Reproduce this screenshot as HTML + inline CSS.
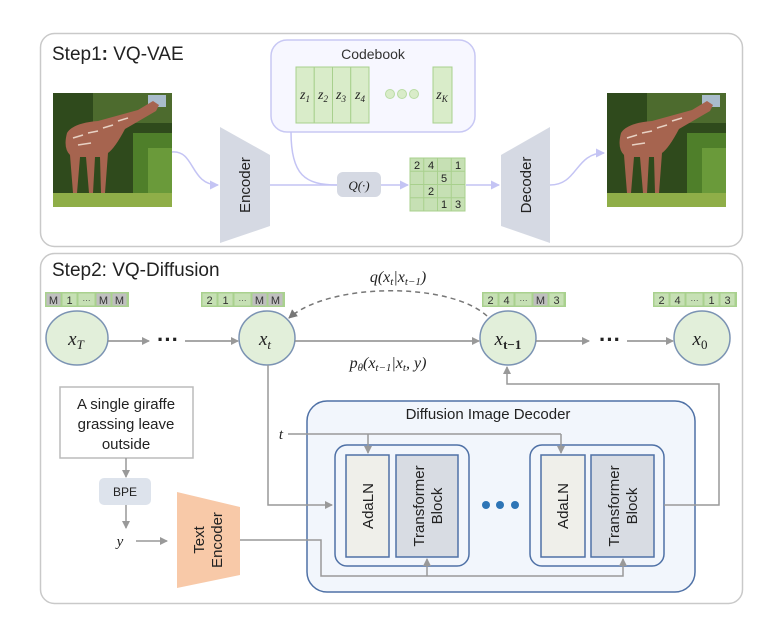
<!DOCTYPE html>
<html><head><meta charset="utf-8"><style>
html,body{margin:0;padding:0;background:#fff;}
svg{display:block;font-family:"Liberation Sans",sans-serif;}
.m{font-family:"Liberation Serif",serif;font-style:italic;}
</style></head><body>
<svg width="769" height="617" viewBox="0 0 769 617" xmlns="http://www.w3.org/2000/svg">
<defs>
<marker id="ag" markerWidth="8" markerHeight="8" refX="7" refY="4" orient="auto" markerUnits="userSpaceOnUse"><path d="M0,0 L8,4 L0,8 z" fill="#999"/></marker>
<marker id="ap" markerWidth="9" markerHeight="9" refX="8" refY="4.5" orient="auto" markerUnits="userSpaceOnUse"><path d="M0,0 L9,4.5 L0,9 z" fill="#c4c4f4"/></marker>
<marker id="ad" markerWidth="9" markerHeight="9" refX="8" refY="4.5" orient="auto" markerUnits="userSpaceOnUse"><path d="M0,0 L9,4.5 L0,9 z" fill="#777"/></marker>
<g id="gir">
<rect x="0" y="0" width="119" height="114" fill="#2f4a1c"/>
<rect x="40" y="0" width="79" height="30" fill="#4d6b2e"/>
<rect x="95" y="2" width="18" height="12" fill="#a9bccb"/>
<rect x="80" y="40" width="39" height="60" fill="#4f7f2a"/>
<rect x="95" y="55" width="24" height="45" fill="#6a9a3a"/>
<rect x="0" y="100" width="119" height="14" fill="#8fae48"/>
<path d="M14,40 Q20,30 45,28 L85,17 L100,8 L106,12 L103,18 L72,36 Q62,55 55,60 L52,100 L48,100 L47,64 L42,64 L40,100 L36,100 L33,64 L27,64 L24,100 L20,100 L17,62 Q10,55 14,40z" fill="#a6644f"/>
<path d="M20,45 L30,42 M35,40 L45,38 M25,52 L38,50 M50,35 L60,32 M65,28 L75,25" stroke="#e8d2c4" stroke-width="1.5"/>
</g>
</defs>

<!-- Step1 -->
<rect x="40.5" y="33.5" width="702" height="213" rx="14" fill="#fff" stroke="#c9c9c9" stroke-width="1.5"/>
<text x="52" y="60" font-size="19" fill="#222">Step1<tspan font-weight="bold">:</tspan> VQ-VAE</text>

<rect x="271" y="40" width="204" height="92" rx="16" fill="#f7f7ff" stroke="#c8c8f4" stroke-width="1.5"/>
<text x="373" y="59" font-size="14" text-anchor="middle" fill="#333">Codebook</text>
<g fill="#d9ecc9" stroke="#a8d08d">
<rect x="296" y="67" width="18.25" height="56"/><rect x="314.25" y="67" width="18.25" height="56"/><rect x="332.5" y="67" width="18.25" height="56"/><rect x="350.75" y="67" width="18.25" height="56"/><rect x="433" y="67" width="19" height="56"/>
</g>
<g class="m" font-size="14" fill="#222" text-anchor="middle">
<text x="305" y="99">z<tspan font-size="9" dy="3">1</tspan></text>
<text x="323" y="99">z<tspan font-size="9" dy="3">2</tspan></text>
<text x="341" y="99">z<tspan font-size="9" dy="3">3</tspan></text>
<text x="360" y="99">z<tspan font-size="9" dy="3">4</tspan></text>
<text x="442" y="99">z<tspan font-size="9" dy="3">K</tspan></text>
</g>
<g fill="#d9ecc9" stroke="#b9dca4"><circle cx="390" cy="94" r="4.5"/><circle cx="402" cy="94" r="4.5"/><circle cx="414" cy="94" r="4.5"/></g>

<use href="#gir" x="53" y="93"/>
<use href="#gir" x="607" y="93"/>

<path d="M172,152 C195,150 190,185 218,185" fill="none" stroke="#c4c4f4" stroke-width="1.5" marker-end="url(#ap)"/>
<polygon points="220,127 270,155 270,226 220,243" fill="#d5d9e3"/>
<text transform="translate(250,185) rotate(-90)" font-size="15" text-anchor="middle" fill="#222">Encoder</text>
<line x1="270" y1="185" x2="337" y2="185" stroke="#c4c4f4" stroke-width="1.5"/>
<path d="M291,132 C291,175 305,185 337,185" fill="none" stroke="#c4c4f4" stroke-width="1.5"/>
<rect x="337" y="172" width="44" height="25" rx="6" fill="#d5d9e3"/>
<text x="359" y="190" class="m" font-size="13" text-anchor="middle" fill="#222">Q(·)</text>
<line x1="381" y1="185" x2="408" y2="185" stroke="#c4c4f4" stroke-width="1.5" marker-end="url(#ap)"/>
<g fill="#c6e0b4" stroke="#a8d08d">
<rect x="410" y="158" width="55" height="53"/>
</g>
<g stroke="#a8d08d"><line x1="423.75" y1="158" x2="423.75" y2="211"/><line x1="437.5" y1="158" x2="437.5" y2="211"/><line x1="451.25" y1="158" x2="451.25" y2="211"/><line x1="410" y1="171.25" x2="465" y2="171.25"/><line x1="410" y1="184.5" x2="465" y2="184.5"/><line x1="410" y1="197.75" x2="465" y2="197.75"/></g>
<g font-size="11" text-anchor="middle" fill="#222">
<text x="417" y="169">2</text><text x="431" y="169">4</text><text x="458" y="169">1</text>
<text x="444" y="182">5</text><text x="431" y="195">2</text><text x="444" y="208">1</text><text x="458" y="208">3</text>
</g>
<line x1="466" y1="185" x2="499" y2="185" stroke="#c4c4f4" stroke-width="1.5" marker-end="url(#ap)"/>
<polygon points="501,155 550,127 550,243 501,226" fill="#d5d9e3"/>
<text transform="translate(531,185) rotate(-90)" font-size="15" text-anchor="middle" fill="#222">Decoder</text>
<path d="M550,185 C578,185 575,153 604,153" fill="none" stroke="#c4c4f4" stroke-width="1.5" marker-end="url(#ap)"/>

<!-- Step2 -->
<rect x="40.5" y="253.5" width="702" height="350" rx="14" fill="#fff" stroke="#c9c9c9" stroke-width="1.5"/>
<text x="52" y="276" font-size="19" fill="#222">Step2: VQ-Diffusion</text>

<g font-size="11" text-anchor="middle" fill="#333">
<g transform="translate(45,292)">
<rect x="0" y="0" width="84" height="15" fill="#a9d18e"/>
<rect x="1.5" y="1.5" width="14" height="12" fill="#bfbfbf"/><rect x="17.5" y="1.5" width="14" height="12" fill="#c6e0b4"/><rect x="33.5" y="1.5" width="16" height="12" fill="#c6e0b4"/><rect x="51.5" y="1.5" width="14" height="12" fill="#bfbfbf"/><rect x="67.5" y="1.5" width="14" height="12" fill="#bfbfbf"/>
<text x="8.5" y="12">M</text><text x="24.5" y="12">1</text><text x="41.5" y="11" font-size="8">···</text><text x="58.5" y="12">M</text><text x="74.5" y="12">M</text>
</g>
<g transform="translate(201,292)">
<rect x="0" y="0" width="84" height="15" fill="#a9d18e"/>
<rect x="1.5" y="1.5" width="14" height="12" fill="#c6e0b4"/><rect x="17.5" y="1.5" width="14" height="12" fill="#c6e0b4"/><rect x="33.5" y="1.5" width="16" height="12" fill="#c6e0b4"/><rect x="51.5" y="1.5" width="14" height="12" fill="#bfbfbf"/><rect x="67.5" y="1.5" width="14" height="12" fill="#bfbfbf"/>
<text x="8.5" y="12">2</text><text x="24.5" y="12">1</text><text x="41.5" y="11" font-size="8">···</text><text x="58.5" y="12">M</text><text x="74.5" y="12">M</text>
</g>
<g transform="translate(482,292)">
<rect x="0" y="0" width="84" height="15" fill="#a9d18e"/>
<rect x="1.5" y="1.5" width="14" height="12" fill="#c6e0b4"/><rect x="17.5" y="1.5" width="14" height="12" fill="#c6e0b4"/><rect x="33.5" y="1.5" width="16" height="12" fill="#c6e0b4"/><rect x="51.5" y="1.5" width="14" height="12" fill="#bfbfbf"/><rect x="67.5" y="1.5" width="14" height="12" fill="#c6e0b4"/>
<text x="8.5" y="12">2</text><text x="24.5" y="12">4</text><text x="41.5" y="11" font-size="8">···</text><text x="58.5" y="12">M</text><text x="74.5" y="12">3</text>
</g>
<g transform="translate(653,292)">
<rect x="0" y="0" width="84" height="15" fill="#a9d18e"/>
<rect x="1.5" y="1.5" width="14" height="12" fill="#c6e0b4"/><rect x="17.5" y="1.5" width="14" height="12" fill="#c6e0b4"/><rect x="33.5" y="1.5" width="16" height="12" fill="#c6e0b4"/><rect x="51.5" y="1.5" width="14" height="12" fill="#c6e0b4"/><rect x="67.5" y="1.5" width="14" height="12" fill="#c6e0b4"/>
<text x="8.5" y="12">2</text><text x="24.5" y="12">4</text><text x="41.5" y="11" font-size="8">···</text><text x="58.5" y="12">1</text><text x="74.5" y="12">3</text>
</g>
</g>

<g fill="#e2efda" stroke="#7b93b3" stroke-width="1.5">
<ellipse cx="77" cy="338" rx="31" ry="27"/>
<ellipse cx="267" cy="338" rx="28" ry="27"/>
<ellipse cx="508" cy="338" rx="28" ry="27"/>
<ellipse cx="702" cy="338" rx="28" ry="27"/>
</g>
<g class="m" font-size="19" fill="#222" text-anchor="middle">
<text x="76" y="345">x<tspan font-size="13" dy="4">T</tspan></text>
<text x="265" y="345">x<tspan font-size="13" dy="4">t</tspan></text>
<text x="508" y="345">x<tspan font-size="13" dy="4" font-style="normal" font-weight="bold">t−1</tspan></text>
<text x="700" y="345">x<tspan font-size="13" dy="4" font-style="normal">0</tspan></text>
</g>
<g stroke="#8c8c8c" stroke-width="1.5" fill="none">
<line x1="108" y1="341" x2="149" y2="341" marker-end="url(#ag)"/>
<line x1="185" y1="341" x2="238" y2="341" marker-end="url(#ag)"/>
<line x1="295" y1="341" x2="479" y2="341" marker-end="url(#ag)"/>
<line x1="536" y1="341" x2="589" y2="341" marker-end="url(#ag)"/>
<line x1="627" y1="341" x2="673" y2="341" marker-end="url(#ag)"/>
</g>
<text x="168" y="347" font-size="22" font-weight="bold" text-anchor="middle" fill="#222">···</text>
<text x="610" y="347" font-size="22" font-weight="bold" text-anchor="middle" fill="#222">···</text>
<path d="M487,316 C450,282 330,282 289,318" fill="none" stroke="#777" stroke-width="1.5" stroke-dasharray="5,4" marker-end="url(#ad)"/>
<text x="398" y="282" class="m" font-size="16" text-anchor="middle" fill="#222">q(x<tspan font-size="11" dy="3">t</tspan><tspan dy="-3">|x</tspan><tspan font-size="11" dy="3">t−1</tspan><tspan dy="-3">)</tspan></text>
<text x="388" y="368" class="m" font-size="16" text-anchor="middle" fill="#222">p<tspan font-size="11" dy="3">θ</tspan><tspan dy="-3">(x</tspan><tspan font-size="11" dy="3">t−1</tspan><tspan dy="-3">|x</tspan><tspan font-size="11" dy="3">t</tspan><tspan dy="-3">, y)</tspan></text>

<!-- bottom -->
<rect x="60" y="387" width="133" height="71" fill="#fff" stroke="#bbb" stroke-width="1.5"/>
<g font-size="15" text-anchor="middle" fill="#222"><text x="126" y="409">A single giraffe</text><text x="126" y="429">grassing leave</text><text x="126" y="449">outside</text></g>
<line x1="126" y1="458" x2="126" y2="477" stroke="#999" stroke-width="1.5" marker-end="url(#ag)"/>
<rect x="99" y="478" width="52" height="27" rx="5" fill="#dde3ec"/>
<text x="125" y="496" font-size="12" text-anchor="middle" fill="#222">BPE</text>
<line x1="126" y1="505" x2="126" y2="528" stroke="#999" stroke-width="1.5" marker-end="url(#ag)"/>
<text x="120" y="546" class="m" font-size="15" text-anchor="middle" fill="#222">y</text>
<line x1="136" y1="541" x2="167" y2="541" stroke="#999" stroke-width="1.5" marker-end="url(#ag)"/>
<polygon points="177,492 240,507 240,575 177,588" fill="#f8c9a8"/>
<g transform="translate(208,540) rotate(-90)" font-size="15" text-anchor="middle" fill="#222"><text x="0" y="-4">Text</text><text x="0" y="14">Encoder</text></g>

<rect x="307" y="401" width="388" height="191" rx="20" fill="#f2f6fc" stroke="#4f71a6" stroke-width="1.5"/>
<text x="488" y="419" font-size="15" text-anchor="middle" fill="#222">Diffusion Image Decoder</text>
<rect x="335" y="445" width="134" height="121" rx="12" fill="#f2f6fc" stroke="#4f71a6" stroke-width="1.5"/>
<rect x="530" y="445" width="134" height="121" rx="12" fill="#f2f6fc" stroke="#4f71a6" stroke-width="1.5"/>
<g stroke="#4f71a6" stroke-width="1.5">
<rect x="346" y="455" width="43" height="102" fill="#efefea"/>
<rect x="396" y="455" width="62" height="102" fill="#d8dce3"/>
<rect x="541" y="455" width="44" height="102" fill="#efefea"/>
<rect x="591" y="455" width="63" height="102" fill="#d8dce3"/>
</g>
<g font-size="15" text-anchor="middle" fill="#222">
<text transform="translate(373,506) rotate(-90)">AdaLN</text>
<text transform="translate(568,506) rotate(-90)">AdaLN</text>
<g transform="translate(427,506) rotate(-90)"><text y="-3">Transformer</text><text y="15">Block</text></g>
<g transform="translate(622,506) rotate(-90)"><text y="-3">Transformer</text><text y="15">Block</text></g>
</g>
<g fill="#2e75b6"><circle cx="486" cy="505" r="4"/><circle cx="500" cy="505" r="4"/><circle cx="515" cy="505" r="4"/></g>

<text x="281" y="439" class="m" font-size="15" text-anchor="middle" fill="#222">t</text>
<g stroke="#999" stroke-width="1.5" fill="none">
<polyline points="288,434 561,434"/>
<line x1="368" y1="434" x2="368" y2="453" marker-end="url(#ag)"/>
<line x1="561" y1="434" x2="561" y2="453" marker-end="url(#ag)"/>
<polyline points="268,365 268,505 332,505" marker-end="url(#ag)"/>
<polyline points="240,540 321,540 321,576 623,576 623,559" marker-end="url(#ag)"/>
<line x1="427" y1="576" x2="427" y2="559" marker-end="url(#ag)"/>
<polyline points="664,505 719,505 719,384 507,384 507,367" marker-end="url(#ag)"/>
</g>
</svg>
</body></html>
